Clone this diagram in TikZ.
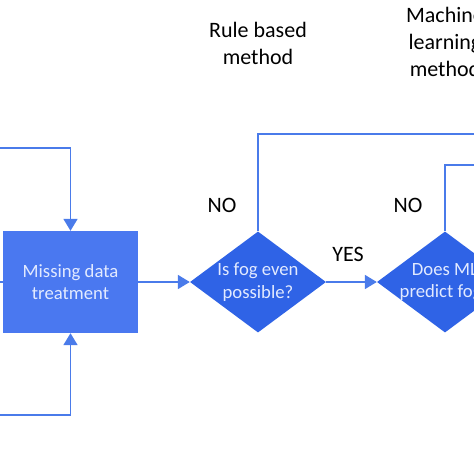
\documentclass[tikz,border=0pt]{standalone}
\usepackage{fontspec}
\setmainfont{Carlito}
\usetikzlibrary{arrows.meta,shapes.geometric}
\definecolor{lineblue}{HTML}{4A7BEA}
\definecolor{boxblue}{HTML}{4A78F0}
\definecolor{diablue}{HTML}{2F63E6}
\definecolor{txtblue}{HTML}{E2EAFF}
\tikzset{
  conn/.style={draw=lineblue,line width=1.8pt},
  arr/.style={conn,-{Triangle[length=12pt,width=14pt]}},
  procbox/.style={rectangle,fill=boxblue,minimum width=135pt,minimum height=102pt,inner sep=0pt},
  dia/.style={diamond,fill=diablue,minimum width=136pt,minimum height=101pt,inner sep=0pt},
  intext/.style={text=txtblue,align=center,font=\fontsize{18.7}{22.5}\selectfont,inner sep=0pt},
  lbl/.style={text=black,align=center,font=\fontsize{22}{27}\selectfont,inner sep=0pt},
}
\begin{document}
\begin{tikzpicture}[x=1pt,y=-1pt]
\useasboundingbox (0,0) rectangle (474,474);
\clip (0,0) rectangle (474,474);
\fill[white] (0,0) rectangle (474,474);
% shapes
\node[procbox] (box) at (70.5,282) {};
\node[intext] (boxt) at (box) {Missing data\\treatment};
\node[dia] (d1) at (258,282) {};
\node[intext] (d1t) at (d1) {Is fog even\\possible?};
\node[dia] (d2) at (445,282) {};
\node[intext] (d2t) at (d2) {Does ML\\predict fog?};
% free ends
\coordinate (tl) at (-5,148);
\coordinate (bl) at (-5,415);
\coordinate (li) at (-5,282);
\coordinate (r1) at (490,134);
\coordinate (r2) at (490,165);
% connectors
\draw[arr] (tl) -| (box.north);
\draw[arr] (bl) -| (box.south);
\draw[conn] (li) -- (box.west);
\draw[arr] (box.east) -- (d1.west);
\draw[arr] (d1.east) -- (d2.west);
\draw[conn] (d1.north) |- (r1);
\draw[conn] (d2.north) |- (r2);
% labels
\node[lbl] (no1) at (222,205) {NO};
\node[lbl] (no2) at (408,205) {NO};
\node[lbl] (yes) at (348,254) {YES};
\node[lbl] (rule) at (258,43) {Rule based\\method};
\node[lbl] (ml) at (445,42) {Machine\\learning\\method};
\end{tikzpicture}
\end{document}
